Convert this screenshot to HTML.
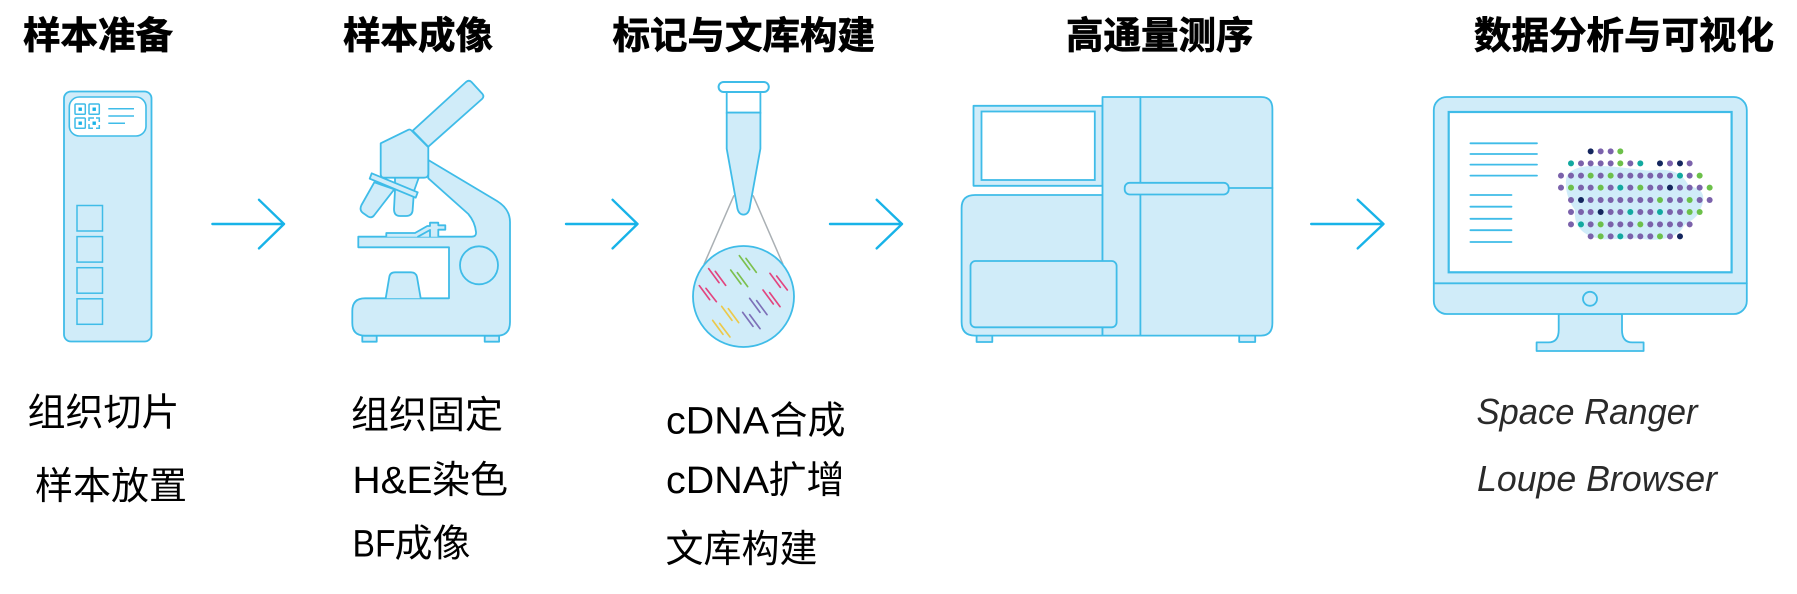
<!DOCTYPE html>
<html><head><meta charset="utf-8"><style>
html,body{margin:0;padding:0;background:#fff}
svg{display:block}
text{font-family:"Liberation Sans","Noto Sans CJK SC",sans-serif;fill:#000;font-size:38px}
.t{font-weight:700;font-size:37.5px;stroke:#000;stroke-width:.7}
.i{font-style:italic;font-size:36px;fill:#2a2a2a}
.s{fill:#d0ecf9;stroke:#3fbce8;stroke-width:1.8;stroke-linejoin:round}
.l{fill:none;stroke:#3fbce8;stroke-width:1.8;stroke-linecap:round;stroke-linejoin:round}
.a{fill:none;stroke:#18b3e8;stroke-width:2.4;stroke-linecap:round;stroke-linejoin:round}
</style></head><body>
<svg width="1797" height="594" viewBox="0 0 1797 594" xmlns="http://www.w3.org/2000/svg">
<rect width="1797" height="594" fill="#fff"/>
<!-- titles -->
<text class="t" x="23" y="48.500">样本准备</text>
<text class="t" x="343" y="48.500">样本成像</text>
<text class="t" x="612.5" y="48.500">标记与文库构建</text>
<text class="t" x="1066" y="48.500">高通量测序</text>
<text class="t" x="1474" y="48.500">数据分析与可视化</text>
<!-- body -->
<text x="27.5" y="425.500">组织切片</text>
<text x="35" y="499">样本放置</text>
<text x="351" y="428">组织固定</text>
<text x="352.5" y="493" textLength="80" lengthAdjust="spacingAndGlyphs">H&amp;E</text>
<text x="432" y="493">染色</text>
<text x="352.5" y="556.500" textLength="43" lengthAdjust="spacingAndGlyphs">BF</text>
<text x="394.5" y="556.500">成像</text>
<text x="666" y="433.500" textLength="103" lengthAdjust="spacingAndGlyphs">cDNA</text>
<text x="769.5" y="433.500">合成</text>
<text x="666" y="493" textLength="103" lengthAdjust="spacingAndGlyphs">cDNA</text>
<text x="768.5" y="493">扩增</text>
<text x="665.5" y="562">文库构建</text>
<text class="i" x="1476.5" y="424" textLength="221" lengthAdjust="spacingAndGlyphs">Space Ranger</text>
<text class="i" x="1477" y="491" textLength="240" lengthAdjust="spacingAndGlyphs">Loupe Browser</text>
<!-- arrows -->
<path class="a" d="M212.4 224H284M259 199.8L284 224L259 248.4"/>
<path class="a" d="M566 224H637.5M612.6 199.8L637.5 224L612.6 248.4"/>
<path class="a" d="M830 224H902M876.7 199.8L902 224L876.7 248.4"/>
<path class="a" d="M1311.2 224H1383.5M1357.7 199.8L1383.5 224L1357.7 248.4"/>
<!-- cassette -->
<rect class="s" x="64" y="91.5" width="87.5" height="250" rx="7"/>
<rect x="69.3" y="97" width="76.7" height="39" rx="10" fill="#fff" stroke="#3fbce8" stroke-width="1.6"/>
<g fill="none" stroke="#3fbce8" stroke-width="1.5">
<rect x="75" y="104" width="10.3" height="10.3" rx="1"/><rect x="89" y="104" width="10.3" height="10.3" rx="1"/><rect x="75" y="118" width="10.3" height="10.3" rx="1"/>
<path d="M89 124V128.3H93M89 121V118H94M96 118H99.3V122M99.3 125V128.3H96"/>
<path d="M108.3 108.7H134M108.3 116H134M108.3 123.3H125"/>
</g>
<g fill="#18b3e8"><rect x="78.5" y="107.5" width="3.4" height="3.4"/><rect x="92.5" y="107.5" width="3.4" height="3.4"/><rect x="78.5" y="121.5" width="3.4" height="3.4"/><rect x="92.5" y="121.5" width="3.4" height="3.4"/></g>
<g fill="none" stroke="#3fbce8" stroke-width="1.5">
<rect x="77" y="205.5" width="25.5" height="25.5"/><rect x="77" y="236.6" width="25.5" height="25.5"/><rect x="77" y="267.7" width="25.5" height="25.5"/><rect x="77" y="298.8" width="25.5" height="25.5"/>
</g>
<!-- microscope -->
<rect class="s" x="362.3" y="335.7" width="14.4" height="6"/><rect class="s" x="484.7" y="335.7" width="14.4" height="6"/>
<path class="s" d="M428.3 160L497 201Q510 209 510 222V322Q510 335.7 497 335.7H365Q352.3 335.7 352.3 323V311Q352.3 298.3 365 298.3H449V247.3H358.3V236.7H471.7Q476.5 236.7 476 232Q475 222 468.3 214L428.3 178.3Z"/>
<circle class="s" cx="479" cy="265.3" r="19"/>
<path class="s" d="M385.7 298.3L389.3 277Q390 272.3 395 272.3H411Q416 272.3 417 277L420.7 298.3"/>
<path class="s" d="M386.3 236.7V233H415L427.3 226H430V222.7H438.3V225.3H445.3V229.7H438.3V236.7"/>
<path class="l" d="M418 236.7L430 230V236.7"/>
<path class="s" d="M412.7 130.7L466 82Q469 79.500 471.500 82L482.500 94Q484.500 96.500 482 99L428.300 146.700Z"/>
<path class="s" d="M395 190L394 209Q394 216 400 216H406Q412.700 216 412.700 209L414 191L419 177H395Z"/>
<path class="s" d="M374.300 182.300L361.500 205Q359 210 363 213L368 216.500Q371.500 218.500 374 215.500L394.300 189.300Z"/>
<path class="s" d="M380.700 143.300L408.300 129.800Q410 129 411.500 130.500L428.300 147.300V174Q428.300 177.700 424 177.700H384Q380.700 177.700 380.700 174Z"/>
<path class="s" d="M371.700 173.300L417.700 192.300L415.700 197.700L369.700 178.700Z"/>
<!-- tube -->
<path d="M734 195.300L704 264.300M753 195.300L783 264.300" fill="none" stroke="#aab0b4" stroke-width="1.5"/>
<path d="M726.700 92H760.400V112.600H726.700Z" fill="#fff" stroke="#3fbce8" stroke-width="1.8"/>
<path class="s" d="M726.700 112.600H760.400V148.700L750 206Q749 214.600 743.500 214.600Q738 214.600 737 206L726.700 148.700Z"/>
<rect x="718.600" y="82" width="50.200" height="10" rx="5" fill="#fff" stroke="#3fbce8" stroke-width="2"/>
<circle class="s" cx="743.500" cy="296.500" r="50.500"/>
<g transform="translate(680 230) scale(.3333)" fill="none" stroke-width="5" stroke-linecap="round">
<path stroke="#7cc04e" d="M178 77L209 119M198 85L229 127M152 120L183 162M172 128L203 170"/>
<path stroke="#e2457f" d="M86 116L117 158M106 124L137 166M58 167L89 209M78 175L109 215M270 130L301 172M290 138L322 180M249 180L280 222M269 188L300 230"/>
<path stroke="#7d70b8" d="M209 205L240 247M230 212L261 254M188 247L219 289M209 254L240 296"/>
<path stroke="#ecc94a" d="M125 229L156 271M145 236L176 278M98 271L129 313M119 280L150 321"/>
</g>
<!-- sequencer -->
<rect class="s" x="976.600" y="335.600" width="15.700" height="6.400"/><rect class="s" x="1239.200" y="335.600" width="16" height="6.400"/>
<rect class="s" x="973.500" y="105.800" width="129" height="80"/>
<rect x="981.500" y="111.500" width="113.300" height="68.500" fill="#fff" stroke="#3fbce8" stroke-width="1.800"/>
<path class="s" d="M1102.500 195H975Q961.600 195 961.600 208V322Q961.600 335.600 975 335.600H1102.500Z"/>
<path class="s" d="M1102.500 97H1261Q1272.400 97 1272.400 109V323Q1272.400 335.600 1261 335.600H1102.500Z"/>
<path class="l" d="M1140.400 97V335.600M1228.600 188H1272.400"/>
<rect class="s" x="1124.700" y="182.800" width="104" height="11.700" rx="5"/>
<rect class="s" x="970.500" y="261" width="146.100" height="66.300" rx="5"/>
<!-- computer -->
<path class="s" d="M1558.700 314V330Q1558.700 342.400 1548.400 342.400H1536.600V351H1643.600V342.400H1632.200Q1622 342.400 1622 330V314Z"/>
<rect class="s" x="1433.800" y="97" width="313" height="217" rx="13"/>
<rect x="1448.700" y="112" width="282.900" height="160.300" fill="#fff" stroke="#3fbce8" stroke-width="2.200"/>
<path class="l" d="M1433.800 283.300H1746.800"/>
<circle cx="1590" cy="298.800" r="7" fill="none" stroke="#3fbce8" stroke-width="1.800"/>
<path class="l" d="M1470.400 143.300H1537M1470.400 154H1537M1470.400 164.600H1537M1470.400 175.600H1537M1470.400 195H1511.500M1470.400 206.700H1511.500M1470.400 218.800H1511.500M1470.400 230.200H1511.500M1470.400 242H1511.500"/>
<g transform="translate(1540 130) scale(.3333)">
<path fill="#d0ecf9" d="M78 150C80 115 130 105 180 108C220 108 260 115 310 120C340 125 350 115 390 122C430 130 440 160 450 170C490 175 500 200 480 240C470 270 440 275 430 290C410 330 340 335 300 325L190 328C130 320 100 290 105 240C90 220 75 190 78 150Z"/>
<g fill="#7b62ab">
<circle cx="182" cy="64" r="9"/><circle cx="212" cy="64" r="9"/>
<circle cx="123" cy="100" r="9"/><circle cx="152" cy="100" r="9"/><circle cx="182" cy="100" r="9"/><circle cx="212" cy="100" r="9"/><circle cx="271" cy="100" r="9"/><circle cx="390" cy="100" r="9"/><circle cx="449" cy="100" r="9"/>
<circle cx="63" cy="137" r="9"/><circle cx="93" cy="137" r="9"/><circle cx="123" cy="137" r="9"/><circle cx="182" cy="137" r="9"/><circle cx="241" cy="137" r="9"/><circle cx="271" cy="137" r="9"/><circle cx="301" cy="137" r="9"/><circle cx="331" cy="137" r="9"/><circle cx="360" cy="137" r="9"/><circle cx="390" cy="137" r="9"/><circle cx="449" cy="137" r="9"/>
<circle cx="63" cy="173" r="9"/><circle cx="123" cy="173" r="9"/><circle cx="152" cy="173" r="9"/><circle cx="212" cy="173" r="9"/><circle cx="271" cy="173" r="9"/><circle cx="331" cy="173" r="9"/><circle cx="360" cy="173" r="9"/><circle cx="420" cy="173" r="9"/><circle cx="449" cy="173" r="9"/><circle cx="479" cy="173" r="9"/>
<circle cx="93" cy="210" r="9"/><circle cx="152" cy="210" r="9"/><circle cx="182" cy="210" r="9"/><circle cx="212" cy="210" r="9"/><circle cx="241" cy="210" r="9"/><circle cx="271" cy="210" r="9"/><circle cx="301" cy="210" r="9"/><circle cx="331" cy="210" r="9"/><circle cx="390" cy="210" r="9"/><circle cx="420" cy="210" r="9"/><circle cx="479" cy="210" r="9"/><circle cx="509" cy="210" r="9"/>
<circle cx="93" cy="246" r="9"/><circle cx="123" cy="246" r="9"/><circle cx="152" cy="246" r="9"/><circle cx="212" cy="246" r="9"/><circle cx="241" cy="246" r="9"/><circle cx="301" cy="246" r="9"/><circle cx="331" cy="246" r="9"/><circle cx="390" cy="246" r="9"/><circle cx="420" cy="246" r="9"/>
<circle cx="93" cy="283" r="9"/><circle cx="152" cy="283" r="9"/><circle cx="212" cy="283" r="9"/><circle cx="241" cy="283" r="9"/><circle cx="271" cy="283" r="9"/><circle cx="331" cy="283" r="9"/><circle cx="360" cy="283" r="9"/><circle cx="390" cy="283" r="9"/><circle cx="420" cy="283" r="9"/><circle cx="449" cy="283" r="9"/>
<circle cx="152" cy="319" r="9"/><circle cx="212" cy="319" r="9"/><circle cx="271" cy="319" r="9"/><circle cx="301" cy="319" r="9"/><circle cx="331" cy="319" r="9"/><circle cx="390" cy="319" r="9"/>
</g>
<g fill="#6cc04a">
<circle cx="241" cy="64" r="9"/><circle cx="241" cy="100" r="9"/><circle cx="152" cy="137" r="9"/><circle cx="212" cy="137" r="9"/><circle cx="479" cy="137" r="9"/><circle cx="93" cy="173" r="9"/><circle cx="182" cy="173" r="9"/><circle cx="301" cy="173" r="9"/><circle cx="509" cy="173" r="9"/><circle cx="360" cy="210" r="9"/><circle cx="449" cy="210" r="9"/><circle cx="449" cy="246" r="9"/><circle cx="479" cy="246" r="9"/><circle cx="182" cy="283" r="9"/><circle cx="301" cy="283" r="9"/><circle cx="182" cy="319" r="9"/><circle cx="360" cy="319" r="9"/>
</g>
<g fill="#12a9a0">
<circle cx="93" cy="100" r="9"/><circle cx="301" cy="100" r="9"/><circle cx="420" cy="137" r="9"/><circle cx="241" cy="173" r="9"/><circle cx="271" cy="246" r="9"/><circle cx="360" cy="246" r="9"/><circle cx="123" cy="283" r="9"/><circle cx="241" cy="319" r="9"/>
</g>
<g fill="#14265e">
<circle cx="152" cy="64" r="9"/><circle cx="360" cy="100" r="9"/><circle cx="420" cy="100" r="9"/><circle cx="390" cy="173" r="9"/><circle cx="123" cy="210" r="9"/><circle cx="182" cy="246" r="9"/><circle cx="420" cy="319" r="9"/>
</g>
</g>
</svg>
</body></html>
